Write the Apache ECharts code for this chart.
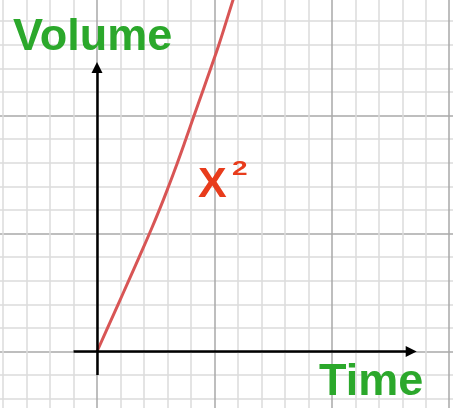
<!DOCTYPE html>
<html>
<head>
<meta charset="utf-8">
<script src="https://cdn.jsdelivr.net/npm/echarts@6/dist/echarts.min.js"></script>
<style>
html,body{margin:0;padding:0;background:#fff;}
#c{width:453px;height:408px;}
</style>
</head>
<body>
<div id="c"></div>
<script>
// Curve (time, volume)
var curveTime   = [0, 0.090, 0.180, 0.270, 0.359, 0.447, 0.531, 0.610, 0.685, 0.757, 0.827, 0.898, 0.969, 1.038, 1.102, 1.165];
var curveVolume = [0, 0.2,   0.4,   0.6,   0.8,   1.0,   1.2,   1.4,   1.6,   1.8,   2.0,   2.2,   2.4,   2.6,   2.8,   3.0];
// Axis arrows extents (data units)
var timeAxisRange   = [-0.2, 2.676];
var volumeAxisRange = [-0.2, 2.407];
// Labels
var yTitle = 'Volume';
var xTitle = 'Time';
var curveLabel = 'X';
var curveExp = '2';

var curveData = curveTime.map(function (t, i) { return [t, curveVolume[i]]; });

var chart = echarts.init(document.getElementById('c'), null, {renderer: 'canvas'});
var fam = 'Liberation Sans';
function txt(x, y, s, size, color, sx) {
  return {type: 'text', x: x, y: y, z: 100, scaleX: sx || 1, silent: true,
    style: {text: s, fontFamily: fam, fontSize: size, fontWeight: 'bold', fill: color,
      align: 'left', verticalAlign: 'middle'}};
}
chart.setOption({
  animation: false,
  backgroundColor: '#ffffff',
  grid: {left: -20.4, right: -19.7, top: -2.5, bottom: -61.5, outerBoundsMode: 'none', containLabel: false},
  xAxis: {
    type: 'value', min: -1, max: 3.2, interval: 1,
    axisLine: {show: false}, axisTick: {show: false}, axisLabel: {show: false},
    splitLine: {show: true, lineStyle: {color: '#a9a9a9', width: 1.5}},
    minorTick: {show: false, splitNumber: 5},
    minorSplitLine: {show: true, lineStyle: {color: '#dcdcdc', width: 1.5}}
  },
  yAxis: {
    type: 'value', min: -1, max: 3, interval: 1,
    axisLine: {show: false}, axisTick: {show: false}, axisLabel: {show: false},
    splitLine: {show: true, lineStyle: {color: '#a9a9a9', width: 1.5}},
    minorTick: {show: false, splitNumber: 5},
    minorSplitLine: {show: true, lineStyle: {color: '#dcdcdc', width: 1.5}}
  },
  series: [
    {
      type: 'line', data: [], silent: true,
      markLine: {
        silent: true, animation: false,
        symbol: ['none', 'triangle'], symbolSize: 11,
        label: {show: false},
        lineStyle: {color: '#000', width: 2.5, type: 'solid'},
        emphasis: {disabled: true},
        data: [
          [{coord: [timeAxisRange[0], 0]}, {coord: [timeAxisRange[1], 0]}],
          [{coord: [0, volumeAxisRange[0]]}, {coord: [0, volumeAxisRange[1]]}]
        ]
      }
    },
    {
      type: 'line', data: curveData, showSymbol: false, symbol: 'none',
      smooth: true, clip: true, silent: true,
      lineStyle: {color: '#d85555', width: 3}
    }
  ],
  graphic: [
    txt(13, 37.5, yTitle, 45, '#2ba82b'),
    txt(319, 383, xTitle, 45, '#2ba82b'),
    txt(198, 185.5, curveLabel, 43, '#e83c1c'),
    txt(232, 169, curveExp, 20, '#e83c1c', 1.4)
  ]
});
</script>
</body>
</html>
